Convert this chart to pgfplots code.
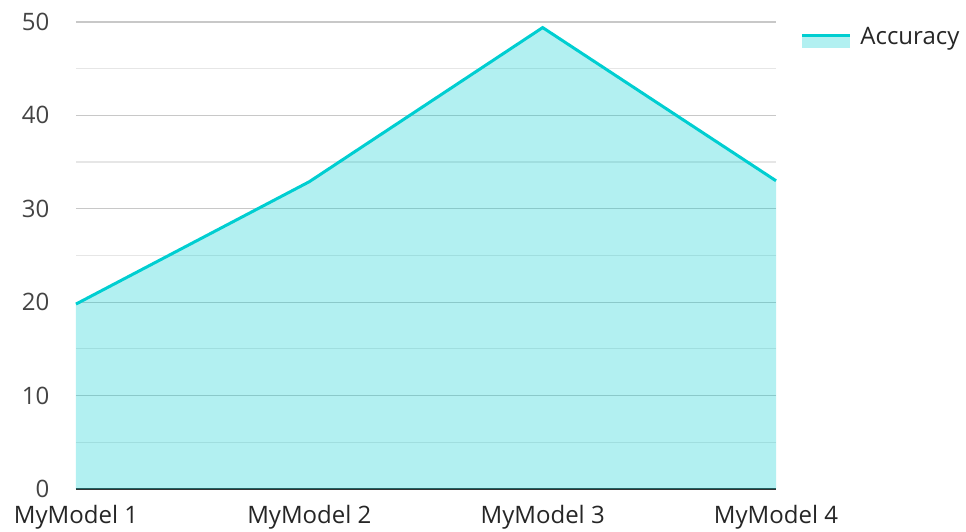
\documentclass[border=0pt]{standalone}
\usepackage{fontspec}
\setmainfont{Open Sans}
\usepackage{pgfplots}
\pgfplotsset{compat=1.18}
\definecolor{turq}{HTML}{00CED1}
\definecolor{majgrid}{HTML}{C8C8C8}
\definecolor{mingrid}{HTML}{E6E6E6}
\definecolor{ticktext}{HTML}{444444}
\begin{document}
\fontsize{12}{14.4}\selectfont
\begin{tikzpicture}
\begin{axis}[
  scale only axis,
  width=350pt, height=233.5pt,
  xmin=0, xmax=3, ymin=0, ymax=50,
  xtick={0,1,2,3},
  xticklabels={MyModel 1, MyModel 2, MyModel 3, MyModel 4},
  ytick={0,10,20,30,40,50},
  minor ytick={5,15,25,35,45},
  ymajorgrids, yminorgrids,
  major grid style={majgrid, line width=0.6pt},
  minor grid style={mingrid, line width=0.6pt},
  axis y line=left,
  axis x line=bottom,
  x axis line style={draw=black!80, line width=1pt, -},
  y axis line style={draw=none, -},
  tick style={draw=none},
  minor tick style={draw=none},
  xticklabel style={anchor=north, inner sep=0pt, yshift=-6pt, text=black!85, font=\fontsize{12}{14.4}\selectfont},
  yticklabel style={anchor=east, inner sep=0pt, xshift=-11pt, text=ticktext, font=\fontsize{12}{14.4}\selectfont},
  /pgf/number format/assume math mode=true,
  legend style={at={(rel axis cs:1,1)}, anchor=west, xshift=12pt, yshift=-8pt, draw=none, fill=none, inner sep=0pt, font=\fontsize{12}{14.4}\selectfont, text=black!85},
  legend cell align=left,
  legend image code/.code={
    \fill[fill=turq, fill opacity=0.3, draw=none] (0pt,-5pt) rectangle (24pt,1pt);
    \draw[turq, line width=1.5pt] (0pt,1pt) -- (24pt,1pt);
  },
  clip=false,
]
\addplot[draw=none, fill=turq, fill opacity=0.3, forget plot] coordinates {
  (0,19.8) (1,32.9) (2,49.4) (3,33.0)
} \closedcycle;
\addplot[draw=turq, line width=1.5pt, mark=none] coordinates {
  (0,19.8) (1,32.9) (2,49.4) (3,33.0)
};
\addlegendentry{\hspace*{2.5pt}Accuracy}
\coordinate (bl) at (rel axis cs:0,0);
\coordinate (tr) at (rel axis cs:1,1);
\end{axis}
\pgfresetboundingbox
\path[use as bounding box] ([xshift=-38pt,yshift=-21.5pt]bl) rectangle ([xshift=95pt,yshift=11pt]tr);
\end{tikzpicture}
\end{document}
